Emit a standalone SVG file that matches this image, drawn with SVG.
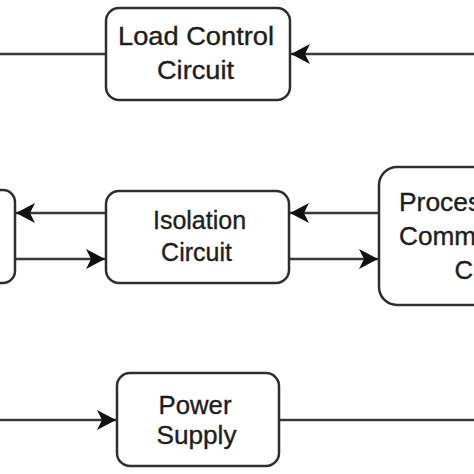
<svg xmlns="http://www.w3.org/2000/svg" width="474" height="474" viewBox="0 0 474 474">
<defs>
<style>
.box{fill:#ffffff;stroke:#2e2e2e;stroke-width:2.5}
.lbl{font-family:"Liberation Sans",Arial,sans-serif;font-size:25px;fill:#1e1e1e;stroke:#1e1e1e;stroke-width:0.35;text-anchor:middle}
.wire{fill:none;stroke:#3a3a3a;stroke-width:2.5}
</style>
<marker id="arr" markerUnits="userSpaceOnUse" markerWidth="22" markerHeight="22" refX="19" refY="10" orient="auto" overflow="visible">
<path d="M0,0 L19,10 L0,20 L5,10 Z" fill="#111"/>
</marker>
</defs>
<rect width="474" height="474" fill="#ffffff"/>
<g id="connectors">
<path class="wire" d="M0,54 H106"/>
<path class="wire" d="M474,54 H291" marker-end="url(#arr)"/>
<path class="wire" d="M106,213 H16" marker-end="url(#arr)"/>
<path class="wire" d="M15,259 H105" marker-end="url(#arr)"/>
<path class="wire" d="M379,213 H290" marker-end="url(#arr)"/>
<path class="wire" d="M289,259 H378" marker-end="url(#arr)"/>
<path class="wire" d="M0,420 H116" marker-end="url(#arr)"/>
<path class="wire" d="M279,420 H474"/>
</g>
<g id="left-node">
<rect class="box" x="-80" y="190" width="95" height="93" rx="12"/>
</g>
<g id="load-control">
<rect class="box" x="106" y="8" width="184" height="92" rx="13"/>
<text class="lbl" x="196" y="44.5" textLength="156" lengthAdjust="spacingAndGlyphs">Load Control</text>
<text class="lbl" x="195.5" y="78.5" textLength="77" lengthAdjust="spacingAndGlyphs">Circuit</text>
</g>
<g id="isolation">
<rect class="box" x="106" y="191" width="183" height="92" rx="13"/>
<text class="lbl" x="199.5" y="228.5">Isolation</text>
<text class="lbl" x="196.5" y="260.5">Circuit</text>
</g>
<g id="processing">
<rect class="box" x="379" y="167" width="220" height="138" rx="18"/>
<text class="lbl" x="490" y="211" textLength="182" lengthAdjust="spacingAndGlyphs">Processing and</text>
<text class="lbl" x="490" y="245" textLength="182" lengthAdjust="spacingAndGlyphs">Communication</text>
<text class="lbl" x="491" y="278.5" textLength="73" lengthAdjust="spacingAndGlyphs">Circuit</text>
</g>
<g id="power-supply">
<rect class="box" x="117" y="373" width="162" height="93" rx="13"/>
<text class="lbl" x="195" y="413.5" textLength="73" lengthAdjust="spacingAndGlyphs">Power</text>
<text class="lbl" x="196.5" y="443.5" textLength="80" lengthAdjust="spacingAndGlyphs">Supply</text>
</g>
</svg>
